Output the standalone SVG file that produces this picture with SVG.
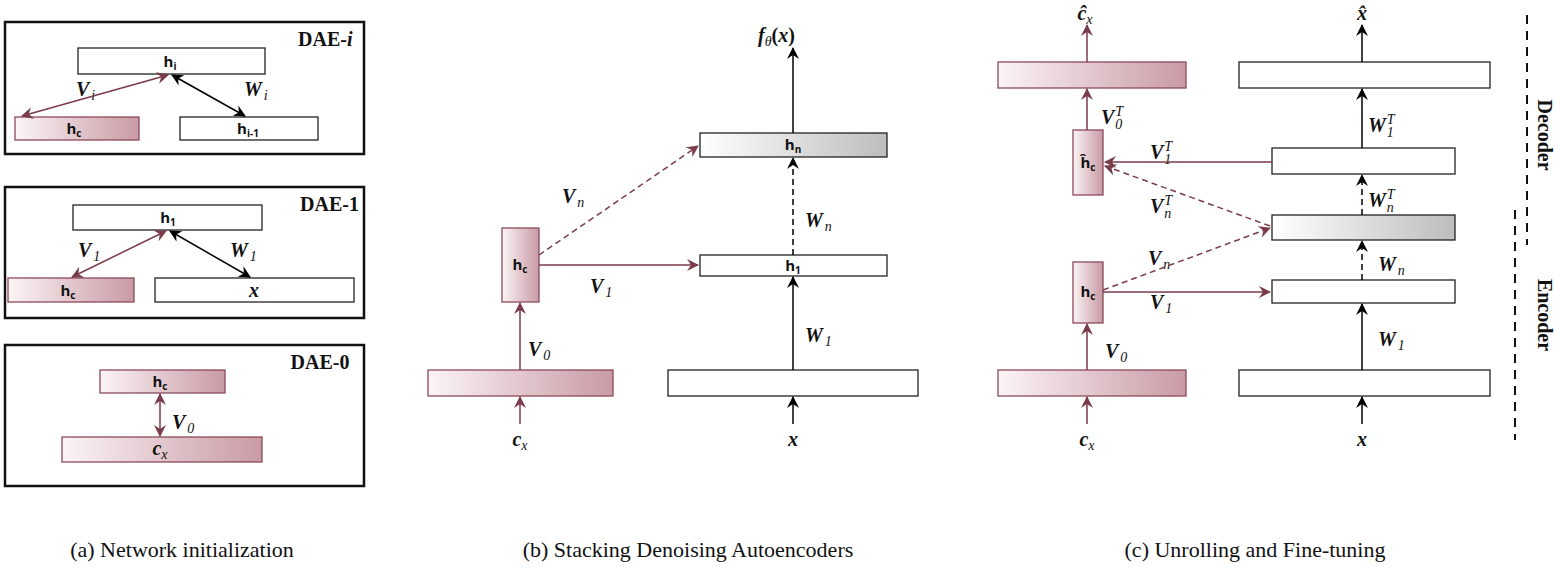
<svg xmlns="http://www.w3.org/2000/svg" width="1554" height="572" viewBox="0 0 1554 572">
<defs>
<linearGradient id="pk" x1="0" x2="1" y1="0" y2="0"><stop offset="0" stop-color="#fbf4f5"/><stop offset="1" stop-color="#c99aa5"/></linearGradient>
<linearGradient id="gr" x1="0" x2="1" y1="0" y2="0"><stop offset="0" stop-color="#ffffff"/><stop offset="1" stop-color="#bdbdbd"/></linearGradient>
<marker id="ab" viewBox="0 0 12 12" refX="11" refY="6" markerWidth="12" markerHeight="12" markerUnits="userSpaceOnUse" orient="auto-start-reverse"><path d="M0,0 L12,6 L0,12 L4,6 Z" fill="#000"/></marker>
<marker id="ap" viewBox="0 0 12 12" refX="11" refY="6" markerWidth="12" markerHeight="12" markerUnits="userSpaceOnUse" orient="auto-start-reverse"><path d="M0,0 L12,6 L0,12 L4,6 Z" fill="#7a3b4a"/></marker>
</defs>
<style>
.w{fill:#fff;stroke:#222;stroke-width:1.3}
.p{fill:url(#pk);stroke:#8b4a5a;stroke-width:1.3}
.g{fill:url(#gr);stroke:#222;stroke-width:1.3}
.frame{fill:none;stroke:#111;stroke-width:2.5}
.h{font-family:"Open Sans",sans-serif;font-weight:bold;font-size:15px;text-anchor:middle;fill:#111}
.m{font-family:"Liberation Serif",serif;font-weight:bold;font-style:italic;font-size:20px;fill:#111}
.s{font-weight:normal;font-size:14px}
.t{font-family:"Liberation Serif",serif;font-weight:bold;font-size:20px;fill:#111}
.cap{font-family:"Liberation Serif",serif;font-size:22px;text-anchor:middle;fill:#111}
.lb{stroke:#000;stroke-width:1.5;fill:none}
.lp{stroke:#7a3b4a;stroke-width:1.5;fill:none}
.d{stroke-dasharray:6,4}
</style>
<g id="panel-a">
<rect class="frame" x="5" y="22" width="359" height="132"/>
<text class="t" x="298" y="46">DAE-<tspan font-style="italic">i</tspan></text>
<rect class="w" x="78" y="48" width="187" height="26"/><text class="h" x="170" y="67">h<tspan font-size="10" dy="3">i</tspan></text>
<rect class="p" x="15" y="117" width="124" height="23"/><text class="h" x="74" y="134">h<tspan font-size="10" dy="3">c</tspan></text>
<rect class="w" x="180" y="117" width="138" height="23"/><text class="h" x="248" y="134">h<tspan font-size="10" dy="3">i-1</tspan></text>
<text class="m" x="76" y="96">V<tspan class="s" dx="2" dy="4">i</tspan></text>
<text class="m" x="244" y="96">W<tspan class="s" dx="2" dy="4">i</tspan></text>
<rect class="frame" x="5" y="187" width="359" height="131"/>
<text class="t" x="300" y="211">DAE-1</text>
<rect class="w" x="73" y="205" width="189" height="25"/><text class="h" x="168" y="223">h<tspan font-size="10" dy="3">1</tspan></text>
<rect class="p" x="8" y="278" width="126" height="24"/><text class="h" x="68" y="296">h<tspan font-size="10" dy="3">c</tspan></text>
<rect class="w" x="155" y="278" width="199" height="24"/><text class="m" x="254" y="297" text-anchor="middle">x</text>
<text class="m" x="78" y="257">V<tspan class="s" dx="2" dy="4">1</tspan></text>
<text class="m" x="230" y="257">W<tspan class="s" dx="2" dy="4">1</tspan></text>
<rect class="frame" x="5" y="345" width="359" height="141"/>
<text class="t" x="320" y="369" text-anchor="middle">DAE-0</text>
<rect class="p" x="100" y="370" width="125" height="23"/><text class="h" x="160" y="387">h<tspan font-size="10" dy="3">c</tspan></text>
<rect class="p" x="62" y="437" width="200" height="25"/><text class="m" x="160" y="455" text-anchor="middle">c<tspan class="s" dy="4">x</tspan></text>
<text class="m" x="172" y="429">V<tspan class="s" dx="2" dy="4">0</tspan></text>
</g>
<g id="panel-b">
<rect class="p" x="428" y="370" width="185" height="26"/>
<rect class="w" x="668" y="370" width="250" height="26"/>
<rect class="p" x="502" y="228" width="37" height="74"/><text class="h" x="520" y="270">h<tspan font-size="10" dy="3">c</tspan></text>
<rect class="w" x="700" y="255" width="187" height="21"/><text class="h" x="793" y="271">h<tspan font-size="10" dy="3">1</tspan></text>
<rect class="g" x="700" y="133" width="187" height="24"/><text class="h" x="793" y="150">h<tspan font-size="10" dy="3">n</tspan></text>
<text class="m" x="520" y="446" text-anchor="middle">c<tspan class="s" dy="4">x</tspan></text>
<text class="m" x="793" y="446" text-anchor="middle">x</text>
<text class="m" x="528" y="356">V<tspan class="s" dx="2" dy="4">0</tspan></text>
<text class="m" x="590" y="293">V<tspan class="s" dx="2" dy="4">1</tspan></text>
<text class="m" x="562" y="203">V<tspan class="s" dx="2" dy="4">n</tspan></text>
<text class="m" x="805" y="342">W<tspan class="s" dx="2" dy="4">1</tspan></text>
<text class="m" x="805" y="227">W<tspan class="s" dx="2" dy="4">n</tspan></text>
<text class="m" x="758" y="42" font-weight="normal">f<tspan class="s" dy="4">θ</tspan><tspan dy="-4" font-style="normal">(</tspan><tspan font-weight="bold">x</tspan><tspan font-style="normal">)</tspan></text>
</g>
<g id="panel-c">
<rect class="p" x="998" y="62" width="188" height="26"/>
<rect class="w" x="1239" y="62" width="251" height="26"/>
<rect class="p" x="1073" y="130" width="30" height="65"/><text class="h" x="1088" y="168">ĥ<tspan font-size="10" dy="3">c</tspan></text>
<rect class="w" x="1272" y="148" width="183" height="26"/>
<rect class="g" x="1272" y="215" width="183" height="25"/>
<rect class="p" x="1073" y="262" width="30" height="61"/><text class="h" x="1088" y="297">h<tspan font-size="10" dy="3">c</tspan></text>
<rect class="w" x="1272" y="280" width="183" height="23"/>
<rect class="p" x="998" y="370" width="188" height="26"/>
<rect class="w" x="1239" y="370" width="251" height="26"/>
<text class="m" x="1085" y="20" text-anchor="middle">ĉ<tspan class="s" dy="4">x</tspan></text>
<text class="m" x="1362" y="20" text-anchor="middle">x̂</text>
<text class="m" x="1087" y="446" text-anchor="middle">c<tspan class="s" dy="4">x</tspan></text>
<text class="m" x="1362" y="446" text-anchor="middle">x</text>
<text class="m" x="1101" y="124">V<tspan class="s" dx="1" dy="5">0</tspan><tspan class="s" font-style="italic" dx="-7" dy="-13">T</tspan></text>
<text class="m" x="1150" y="159">V<tspan class="s" dx="1" dy="5">1</tspan><tspan class="s" font-style="italic" dx="-7" dy="-13">T</tspan></text>
<text class="m" x="1150" y="213">V<tspan class="s" dx="1" dy="5">n</tspan><tspan class="s" font-style="italic" dx="-7" dy="-13">T</tspan></text>
<text class="m" x="1368" y="132">W<tspan class="s" dx="1" dy="5">1</tspan><tspan class="s" font-style="italic" dx="-7" dy="-13">T</tspan></text>
<text class="m" x="1368" y="207">W<tspan class="s" dx="1" dy="5">n</tspan><tspan class="s" font-style="italic" dx="-7" dy="-13">T</tspan></text>
<text class="m" x="1148" y="265">V<tspan class="s" dx="2" dy="4">n</tspan></text>
<text class="m" x="1150" y="309">V<tspan class="s" dx="2" dy="4">1</tspan></text>
<text class="m" x="1378" y="271">W<tspan class="s" dx="2" dy="4">n</tspan></text>
<text class="m" x="1105" y="358">V<tspan class="s" dx="2" dy="4">0</tspan></text>
<text class="m" x="1378" y="346">W<tspan class="s" dx="2" dy="4">1</tspan></text>
<line x1="1527" y1="15" x2="1527" y2="245" stroke="#111" stroke-width="2" stroke-dasharray="9,7"/>
<line x1="1515" y1="210" x2="1515" y2="440" stroke="#111" stroke-width="2" stroke-dasharray="9,7"/>
<text class="t" transform="translate(1538,135) rotate(90)" text-anchor="middle">Decoder</text>
<text class="t" transform="translate(1538,315) rotate(90)" text-anchor="middle">Encoder</text>
</g>
<g id="connectors">
<line class="lp" x1="22" y1="116" x2="168" y2="75" marker-start="url(#ap)" marker-end="url(#ap)"/>
<line class="lb" x1="172" y1="75" x2="245" y2="116" marker-start="url(#ab)" marker-end="url(#ab)"/>
<line class="lp" x1="72" y1="277" x2="166" y2="231" marker-start="url(#ap)" marker-end="url(#ap)"/>
<line class="lb" x1="170" y1="231" x2="250" y2="277" marker-start="url(#ab)" marker-end="url(#ab)"/>
<line class="lp" x1="160" y1="394" x2="160" y2="436" marker-start="url(#ap)" marker-end="url(#ap)"/>
<line class="lp" x1="520" y1="424" x2="520" y2="397" marker-end="url(#ap)"/>
<line class="lp" x1="520" y1="370" x2="520" y2="303" marker-end="url(#ap)"/>
<line class="lp" x1="539" y1="265" x2="698" y2="265" marker-end="url(#ap)"/>
<line class="lp d" x1="539" y1="255" x2="698" y2="146" marker-end="url(#ap)"/>
<line class="lb" x1="793" y1="424" x2="793" y2="397" marker-end="url(#ab)"/>
<line class="lb" x1="793" y1="370" x2="793" y2="277" marker-end="url(#ab)"/>
<line class="lb d" x1="793" y1="255" x2="793" y2="158" marker-end="url(#ab)"/>
<line class="lb" x1="793" y1="133" x2="793" y2="48" marker-end="url(#ab)"/>
<line class="lp" x1="1087" y1="62" x2="1087" y2="25" marker-end="url(#ap)"/>
<line class="lp" x1="1087" y1="130" x2="1087" y2="89" marker-end="url(#ap)"/>
<line class="lb" x1="1362" y1="62" x2="1362" y2="25" marker-end="url(#ab)"/>
<line class="lb" x1="1362" y1="148" x2="1362" y2="89" marker-end="url(#ab)"/>
<line class="lp" x1="1272" y1="162" x2="1105" y2="162" marker-end="url(#ap)"/>
<line class="lb d" x1="1362" y1="215" x2="1362" y2="175" marker-end="url(#ab)"/>
<line class="lp d" x1="1270" y1="226" x2="1105" y2="166" marker-end="url(#ap)"/>
<line class="lp d" x1="1103" y1="290" x2="1270" y2="228" marker-end="url(#ap)"/>
<line class="lp" x1="1103" y1="292" x2="1270" y2="292" marker-end="url(#ap)"/>
<line class="lb d" x1="1362" y1="280" x2="1362" y2="241" marker-end="url(#ab)"/>
<line class="lb" x1="1362" y1="370" x2="1362" y2="304" marker-end="url(#ab)"/>
<line class="lp" x1="1087" y1="370" x2="1087" y2="324" marker-end="url(#ap)"/>
<line class="lp" x1="1087" y1="424" x2="1087" y2="397" marker-end="url(#ap)"/>
<line class="lb" x1="1362" y1="424" x2="1362" y2="397" marker-end="url(#ab)"/>
</g>
<g id="captions">
<text class="cap" x="182" y="557">(a)  Network initialization</text>
<text class="cap" x="688" y="557">(b)  Stacking Denoising Autoencoders</text>
<text class="cap" x="1255" y="557">(c)  Unrolling and Fine-tuning</text>
</g>
</svg>
